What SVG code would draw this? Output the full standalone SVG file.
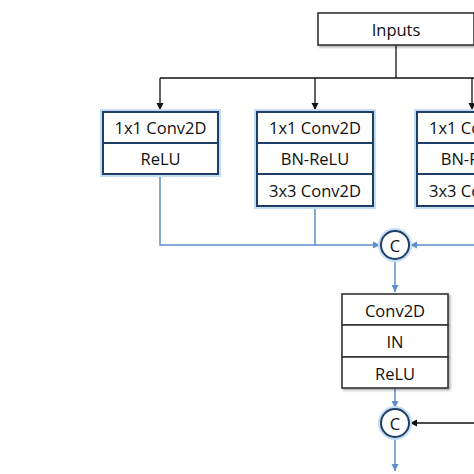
<svg xmlns="http://www.w3.org/2000/svg" width="474" height="474" viewBox="0 0 474 474">
<defs>
<style>
.t{font-family:"Open Sans","Liberation Sans",sans-serif;font-size:16.5px;fill:#111;text-anchor:middle;dominant-baseline:central}
.glow{fill:none;stroke:#c4ddf2;stroke-width:6}
.bl{fill:#fff;stroke:#1f3e66;stroke-width:2}
.gr{fill:#fff;stroke:#333;stroke-width:1.6}
.cb{fill:none;stroke:#5b8fc8;stroke-width:1.5}
.ck{fill:none;stroke:#111;stroke-width:1.3}
</style>
<marker id="ab" markerWidth="8" markerHeight="8" refX="7" refY="4" orient="auto" markerUnits="userSpaceOnUse"><path d="M0,0.5 L7,4 L0,7.5 z" fill="#5b8fc8"/></marker>
<marker id="ak" markerWidth="8" markerHeight="8" refX="7" refY="4" orient="auto" markerUnits="userSpaceOnUse"><path d="M0,0.5 L7,4 L0,7.5 z" fill="#111"/></marker>
<filter id="sh" x="-10%" y="-10%" width="130%" height="130%"><feDropShadow dx="1.5" dy="1.5" stdDeviation="1.2" flood-color="#000" flood-opacity="0.35"/></filter>
</defs>
<g id="connectors">
<path class="ck" d="M396,45 V78"/>
<path class="ck" d="M160,78 H474"/>
<path class="ck" d="M160,78 V110" marker-end="url(#ak)"/>
<path class="ck" d="M315,78 V110" marker-end="url(#ak)"/>
<path class="ck" d="M472,78 V110" marker-end="url(#ak)"/>
<path class="cb" d="M160,174 V245 H380" marker-end="url(#ab)"/>
<path class="cb" d="M315,206 V245"/>
<path class="cb" d="M474,245 H410" marker-end="url(#ab)"/>
<path class="cb" d="M395,259 V292" marker-end="url(#ab)"/>
<path class="cb" d="M395,388 V408" marker-end="url(#ab)"/>
<path class="ck" d="M474,423 H410" marker-end="url(#ak)"/>
<path class="cb" d="M395,437 V471" marker-end="url(#ab)"/>
</g>
<g id="inputs">
<rect class="gr" x="318" y="13" width="156" height="32" filter="url(#sh)"/>
<text class="t" x="396" y="29">Inputs</text>
</g>
<g id="branch1">
<rect class="glow" x="103" y="112" width="115" height="62"/>
<rect class="bl" x="103" y="112" width="115" height="31"/>
<rect class="bl" x="103" y="143" width="115" height="31"/>
<text class="t" x="160.5" y="127">1x1 Conv2D</text>
<text class="t" x="160.5" y="158">ReLU</text>
</g>
<g id="branch2">
<rect class="glow" x="257" y="112" width="116" height="94"/>
<rect class="bl" x="257" y="112" width="116" height="31"/>
<rect class="bl" x="257" y="143" width="116" height="31"/>
<rect class="bl" x="257" y="174" width="116" height="32"/>
<text class="t" x="315" y="127">1x1 Conv2D</text>
<text class="t" x="315" y="158">BN-ReLU</text>
<text class="t" x="315" y="190">3x3 Conv2D</text>
</g>
<g id="branch3">
<rect class="glow" x="417" y="112" width="116" height="94"/>
<rect class="bl" x="417" y="112" width="116" height="31"/>
<rect class="bl" x="417" y="143" width="116" height="31"/>
<rect class="bl" x="417" y="174" width="116" height="32"/>
<text class="t" x="475" y="127">1x1 Conv2D</text>
<text class="t" x="475" y="158">BN-ReLU</text>
<text class="t" x="475" y="190">3x3 Conv2D</text>
</g>
<g id="concat1">
<circle cx="395" cy="245" r="14" fill="none" stroke="#c4ddf2" stroke-width="6"/>
<circle cx="395" cy="245" r="14" fill="#fff" stroke="#1f3e66" stroke-width="2"/>
<text class="t" x="395" y="245">C</text>
</g>
<g id="block">
<g filter="url(#sh)">
<rect class="gr" x="342" y="294" width="106" height="31"/>
<rect class="gr" x="342" y="325" width="106" height="32"/>
<rect class="gr" x="342" y="357" width="106" height="31"/>
</g>
<text class="t" x="395" y="310">Conv2D</text>
<text class="t" x="395" y="341">IN</text>
<text class="t" x="395" y="373">ReLU</text>
</g>
<g id="concat2">
<circle cx="395" cy="423" r="14" fill="none" stroke="#c4ddf2" stroke-width="6"/>
<circle cx="395" cy="423" r="14" fill="#fff" stroke="#1f3e66" stroke-width="2"/>
<text class="t" x="395" y="423">C</text>
</g>
</svg>
